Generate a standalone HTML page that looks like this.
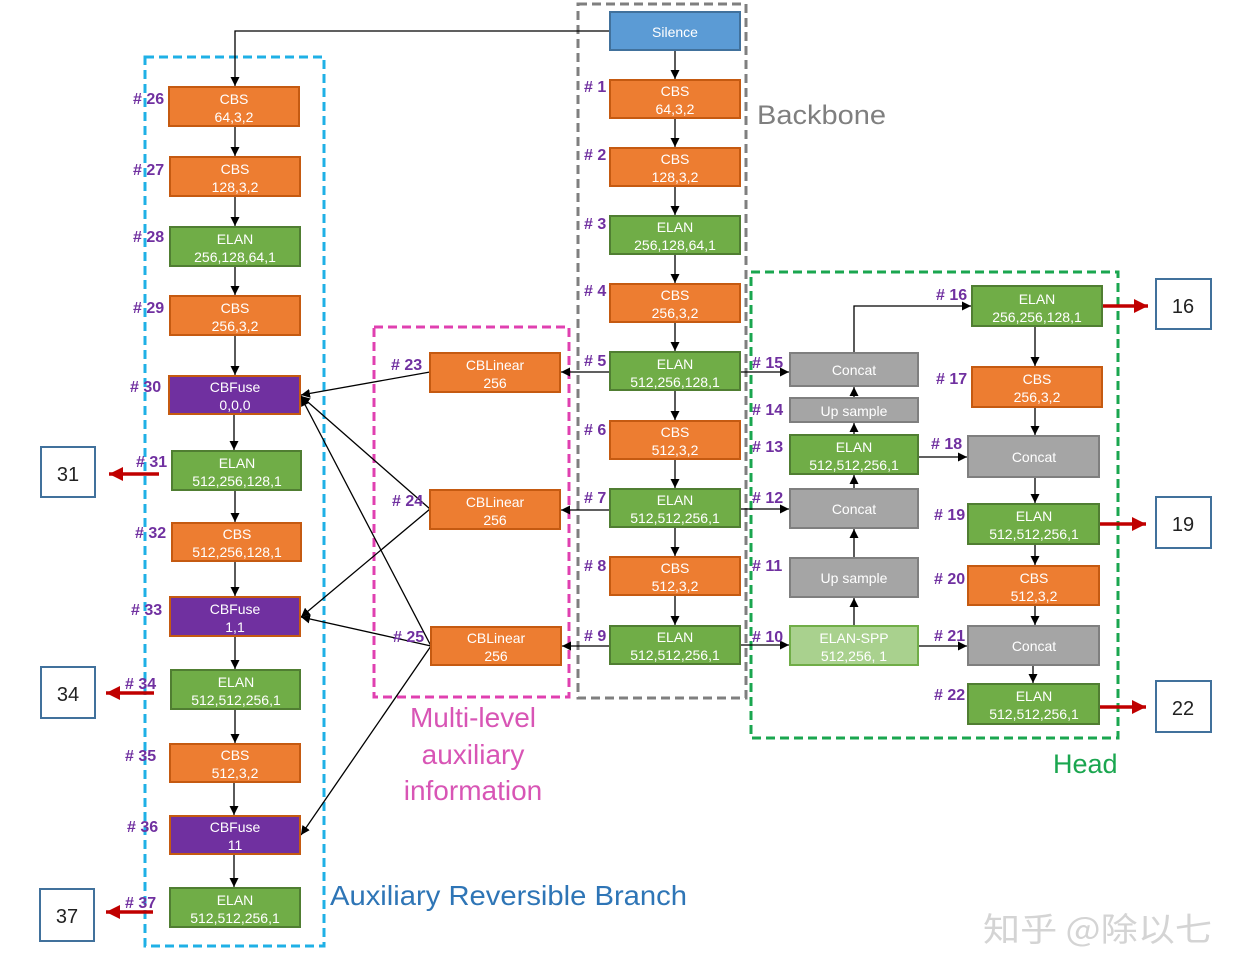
<!DOCTYPE html>
<html><head><meta charset="utf-8"><style>
html,body{margin:0;padding:0;background:#fff;}
svg{display:block;font-family:"Liberation Sans","Noto Sans CJK SC",sans-serif;}
.b text{fill:#fff;font-size:14px;text-anchor:middle;}
.h{fill:#7030a0;font-size:16px;font-weight:bold;}
.ln{stroke:#000;stroke-width:1.3;fill:none;}
.o{fill:#ed7d31;stroke:#c55a11;stroke-width:2;}
.g{fill:#70ad47;stroke:#507e32;stroke-width:2;}
.gl{fill:#a9d18e;stroke:#70ad47;stroke-width:2;}
.p{fill:#7030a0;stroke:#c55a11;stroke-width:2;}
.gr{fill:#a5a5a5;stroke:#7f7f7f;stroke-width:2;}
.bl{fill:#5b9bd5;stroke:#41719c;stroke-width:2;}
.out{fill:#fff;stroke:#41719c;stroke-width:2;}
.ot{fill:#222;font-size:20px;text-anchor:middle;}
</style></head><body>
<svg width="1246" height="978" viewBox="0 0 1246 978" xmlns="http://www.w3.org/2000/svg">
<defs>
<marker id="a" viewBox="0 0 10 10" refX="10" refY="5" markerWidth="9" markerHeight="9" markerUnits="userSpaceOnUse" orient="auto"><path d="M0,0L10,5L0,10z" fill="#000"/></marker>
<marker id="r" viewBox="0 0 10 10" refX="10" refY="5" markerWidth="14" markerHeight="14" markerUnits="userSpaceOnUse" orient="auto"><path d="M0,0L10,5L0,10z" fill="#c00000"/></marker>
</defs>
<rect x="578" y="4" width="168" height="694" fill="none" stroke="#7f7f7f" stroke-width="3" stroke-dasharray="9,5"/>
<rect x="145" y="57" width="179" height="889" fill="none" stroke="#1fb0e6" stroke-width="3" stroke-dasharray="9,5"/>
<rect x="374" y="327" width="195" height="370" fill="none" stroke="#e040b0" stroke-width="3" stroke-dasharray="9,5"/>
<rect x="751" y="272" width="367" height="466" fill="none" stroke="#1aa64f" stroke-width="3" stroke-dasharray="9,5"/>

<g class="ln">
<path d="M610,31H235V86" marker-end="url(#a)"/>
<path d="M675,50V79" marker-end="url(#a)"/>
<path d="M675,118V147" marker-end="url(#a)"/>
<path d="M675,186V215" marker-end="url(#a)"/>
<path d="M675,254V283" marker-end="url(#a)"/>
<path d="M675,322V351" marker-end="url(#a)"/>
<path d="M675,390V420" marker-end="url(#a)"/>
<path d="M675,459V488" marker-end="url(#a)"/>
<path d="M675,527V556" marker-end="url(#a)"/>
<path d="M675,595V625" marker-end="url(#a)"/>
<path d="M235,126V156" marker-end="url(#a)"/>
<path d="M235,196V226" marker-end="url(#a)"/>
<path d="M235,266V295" marker-end="url(#a)"/>
<path d="M235,335V375" marker-end="url(#a)"/>
<path d="M234,414V450" marker-end="url(#a)"/>
<path d="M235,490V522" marker-end="url(#a)"/>
<path d="M235,561V596" marker-end="url(#a)"/>
<path d="M235,636V669" marker-end="url(#a)"/>
<path d="M235,708V743" marker-end="url(#a)"/>
<path d="M234,782V815" marker-end="url(#a)"/>
<path d="M234,854V887" marker-end="url(#a)"/>
<path d="M610,372H561" marker-end="url(#a)"/>
<path d="M610,510H561" marker-end="url(#a)"/>
<path d="M610,646H562" marker-end="url(#a)"/>
<path d="M430,372L301,395" marker-end="url(#a)"/>
<path d="M430,509L301,396" marker-end="url(#a)"/>
<path d="M430,509L301,617" marker-end="url(#a)"/>
<path d="M431,646L301,397" marker-end="url(#a)"/>
<path d="M431,646L301,617" marker-end="url(#a)"/>
<path d="M431,646L301,835" marker-end="url(#a)"/>
<path d="M740,372H789" marker-end="url(#a)"/>
<path d="M740,509H789" marker-end="url(#a)"/>
<path d="M740,645H789" marker-end="url(#a)"/>
<path d="M854,626V598" marker-end="url(#a)"/>
<path d="M854,558V529" marker-end="url(#a)"/>
<path d="M854,489V475" marker-end="url(#a)"/>
<path d="M854,435V423" marker-end="url(#a)"/>
<path d="M854,398V387" marker-end="url(#a)"/>
<path d="M854,353V306H971" marker-end="url(#a)"/>
<path d="M918,457H967" marker-end="url(#a)"/>
<path d="M918,646H967" marker-end="url(#a)"/>
<path d="M1035,326V366" marker-end="url(#a)"/>
<path d="M1035,407V435" marker-end="url(#a)"/>
<path d="M1035,477V503" marker-end="url(#a)"/>
<path d="M1035,544V565" marker-end="url(#a)"/>
<path d="M1035,605V625" marker-end="url(#a)"/>
<path d="M1033,665V683" marker-end="url(#a)"/>
</g>
<g stroke="#c00000" stroke-width="3.5" fill="none">
<path d="M1102,306H1148" marker-end="url(#r)"/>
<path d="M1100,524H1146" marker-end="url(#r)"/>
<path d="M1100,707H1146" marker-end="url(#r)"/>
<path d="M159,474H109" marker-end="url(#r)"/>
<path d="M154,693H106" marker-end="url(#r)"/>
<path d="M153,912H106" marker-end="url(#r)"/>
</g>

<g class="b">
<rect class="bl" x="610" y="12" width="130" height="38"/><text x="675" y="37">Silence</text>
<rect class="o" x="610" y="80" width="130" height="38"/><text x="675" y="96">CBS</text><text x="675" y="114">64,3,2</text>
<rect class="o" x="610" y="148" width="130" height="38"/><text x="675" y="164">CBS</text><text x="675" y="182">128,3,2</text>
<rect class="g" x="610" y="216" width="130" height="38"/><text x="675" y="232">ELAN</text><text x="675" y="250">256,128,64,1</text>
<rect class="o" x="610" y="284" width="130" height="38"/><text x="675" y="300">CBS</text><text x="675" y="318">256,3,2</text>
<rect class="g" x="610" y="352" width="130" height="38"/><text x="675" y="369">ELAN</text><text x="675" y="387">512,256,128,1</text>
<rect class="o" x="610" y="421" width="130" height="38"/><text x="675" y="437">CBS</text><text x="675" y="455">512,3,2</text>
<rect class="g" x="610" y="489" width="130" height="38"/><text x="675" y="505">ELAN</text><text x="675" y="523">512,512,256,1</text>
<rect class="o" x="610" y="557" width="130" height="38"/><text x="675" y="573">CBS</text><text x="675" y="591">512,3,2</text>
<rect class="g" x="610" y="626" width="130" height="38"/><text x="675" y="642">ELAN</text><text x="675" y="660">512,512,256,1</text>

<rect class="o" x="169" y="87" width="130" height="39"/><text x="234" y="104">CBS</text><text x="234" y="122">64,3,2</text>
<rect class="o" x="170" y="157" width="130" height="39"/><text x="235" y="174">CBS</text><text x="235" y="192">128,3,2</text>
<rect class="g" x="170" y="227" width="130" height="39"/><text x="235" y="244">ELAN</text><text x="235" y="262">256,128,64,1</text>
<rect class="o" x="170" y="296" width="130" height="39"/><text x="235" y="313">CBS</text><text x="235" y="331">256,3,2</text>
<rect class="p" x="169" y="376" width="131" height="38"/><text x="235" y="392">CBFuse</text><text x="235" y="410">0,0,0</text>
<rect class="g" x="172" y="451" width="129" height="39"/><text x="237" y="468">ELAN</text><text x="237" y="486">512,256,128,1</text>
<rect class="o" x="172" y="523" width="129" height="38"/><text x="237" y="539">CBS</text><text x="237" y="557">512,256,128,1</text>
<rect class="p" x="170" y="597" width="130" height="39"/><text x="235" y="614">CBFuse</text><text x="235" y="632">1,1</text>
<rect class="g" x="171" y="670" width="129" height="39"/><text x="236" y="687">ELAN</text><text x="236" y="705">512,512,256,1</text>
<rect class="o" x="170" y="744" width="130" height="38"/><text x="235" y="760">CBS</text><text x="235" y="778">512,3,2</text>
<rect class="p" x="170" y="816" width="130" height="38"/><text x="235" y="832">CBFuse</text><text x="235" y="850">11</text>
<rect class="g" x="170" y="888" width="130" height="39"/><text x="235" y="905">ELAN</text><text x="235" y="923">512,512,256,1</text>

<rect class="o" x="430" y="353" width="130" height="39"/><text x="495" y="370">CBLinear</text><text x="495" y="388">256</text>
<rect class="o" x="430" y="490" width="130" height="39"/><text x="495" y="507">CBLinear</text><text x="495" y="525">256</text>
<rect class="o" x="431" y="627" width="130" height="38"/><text x="496" y="643">CBLinear</text><text x="496" y="661">256</text>

<rect class="gr" x="790" y="353" width="128" height="33"/><text x="854" y="375">Concat</text>
<rect class="gr" x="790" y="398" width="128" height="24"/><text x="854" y="416">Up sample</text>
<rect class="g" x="790" y="435" width="128" height="39"/><text x="854" y="452">ELAN</text><text x="854" y="470">512,512,256,1</text>
<rect class="gr" x="790" y="489" width="128" height="39"/><text x="854" y="514">Concat</text>
<rect class="gr" x="790" y="558" width="128" height="39"/><text x="854" y="583">Up sample</text>
<rect class="gl" x="790" y="626" width="128" height="39"/><text x="854" y="643">ELAN-SPP</text><text x="854" y="661">512,256, 1</text>

<rect class="g" x="972" y="286" width="130" height="40"/><text x="1037" y="304">ELAN</text><text x="1037" y="322">256,256,128,1</text>
<rect class="o" x="972" y="367" width="130" height="40"/><text x="1037" y="384">CBS</text><text x="1037" y="402">256,3,2</text>
<rect class="gr" x="968" y="436" width="131" height="41"/><text x="1034" y="462">Concat</text>
<rect class="g" x="968" y="504" width="131" height="40"/><text x="1034" y="521">ELAN</text><text x="1034" y="539">512,512,256,1</text>
<rect class="o" x="968" y="566" width="131" height="39"/><text x="1034" y="583">CBS</text><text x="1034" y="601">512,3,2</text>
<rect class="gr" x="968" y="626" width="131" height="39"/><text x="1034" y="651">Concat</text>
<rect class="g" x="968" y="684" width="131" height="40"/><text x="1034" y="701">ELAN</text><text x="1034" y="719">512,512,256,1</text>
</g>

<rect class="out" x="1156" y="279" width="55" height="50"/><text class="ot" x="1183" y="313">16</text>
<rect class="out" x="1156" y="497" width="55" height="51"/><text class="ot" x="1183" y="531">19</text>
<rect class="out" x="1156" y="681" width="55" height="51"/><text class="ot" x="1183" y="715">22</text>
<rect class="out" x="41" y="447" width="54" height="50"/><text class="ot" x="68" y="481">31</text>
<rect class="out" x="41" y="667" width="54" height="51"/><text class="ot" x="68" y="701">34</text>
<rect class="out" x="40" y="889" width="54" height="52"/><text class="ot" x="67" y="923">37</text>

<g class="h">
<text x="584" y="92"># 1</text><text x="584" y="160"># 2</text><text x="584" y="229"># 3</text><text x="584" y="296"># 4</text>
<text x="584" y="366"># 5</text><text x="584" y="435"># 6</text><text x="584" y="503"># 7</text><text x="584" y="571"># 8</text><text x="584" y="641"># 9</text>
<text x="752" y="642"># 10</text><text x="752" y="571"># 11</text><text x="752" y="503"># 12</text><text x="752" y="452"># 13</text><text x="752" y="415"># 14</text><text x="752" y="368"># 15</text>
<text x="936" y="300"># 16</text><text x="936" y="384"># 17</text><text x="931" y="449"># 18</text><text x="934" y="520"># 19</text><text x="934" y="584"># 20</text><text x="934" y="641"># 21</text><text x="934" y="700"># 22</text>
<text x="391" y="370"># 23</text><text x="392" y="506"># 24</text><text x="393" y="642"># 25</text>
<text x="133" y="104"># 26</text><text x="133" y="175"># 27</text><text x="133" y="242"># 28</text><text x="133" y="313"># 29</text>
<text x="130" y="392"># 30</text><text x="136" y="467"># 31</text><text x="135" y="538"># 32</text><text x="131" y="615"># 33</text>
<text x="125" y="689"># 34</text><text x="125" y="761"># 35</text><text x="127" y="832"># 36</text><text x="125" y="908"># 37</text>
</g>

<text x="757" y="124" font-size="27" fill="#7f7f7f" textLength="129" lengthAdjust="spacingAndGlyphs">Backbone</text>
<text x="1053" y="773" font-size="27" fill="#1aa64f">Head</text>
<g font-size="28" fill="#d855b5" text-anchor="middle">
<text x="473" y="727">Multi-level</text>
<text x="473" y="764">auxiliary</text>
<text x="473" y="800">information</text>
</g>
<text x="330" y="905" font-size="28" fill="#2e75b6" textLength="357" lengthAdjust="spacingAndGlyphs">Auxiliary Reversible Branch</text>
<text x="983" y="941" font-size="33" fill="#d4d4d4" textLength="229" lengthAdjust="spacingAndGlyphs" font-family="'Noto Sans CJK SC',sans-serif">知乎 @除以七</text>
</svg>
</body></html>
